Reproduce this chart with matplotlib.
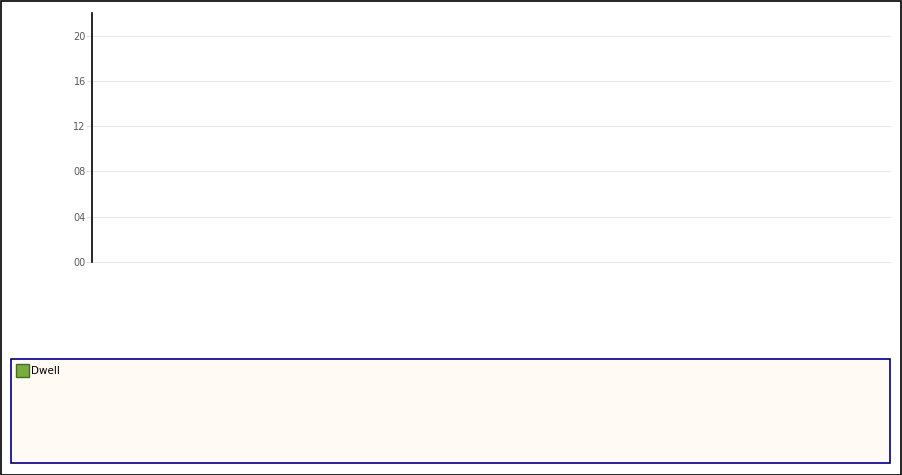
import numpy as np
import matplotlib.pyplot as plt
from matplotlib.patches import Rectangle

# the chart has no data points, only an empty "Dwell" series
categories = []
dwell = []
series_name = "Dwell"
y_ticks = [0, 4, 8, 12, 16, 20]
y_tick_labels = ["00", "04", "08", "12", "16", "20"]

plt.rcParams['font.family'] = ['DejaVu Sans']

fig = plt.figure(figsize=(9.02, 4.75), dpi=100)
W, H = 902, 475

# outer black border of the image
fig.patches.append(Rectangle((0.5 / W, 0.5 / H), 1 - 1.5 / W, 1 - 1.5 / H,
                             transform=fig.transFigure, fill=False,
                             edgecolor="black", linewidth=1.2))

ax = fig.add_axes([92 / W, (H - 262) / H, (890 - 92) / W, (262 - 13) / H])
ax.bar(np.arange(len(categories)), dwell, color="#6a9a3a")
ax.set_ylim(0, 22)
ax.set_xlim(0, 1)
ax.set_yticks(y_ticks)
ax.set_yticklabels(y_tick_labels)
ax.set_xticks([])
ax.grid(axis="y", color="#e8e8e8", linewidth=0.8)
for gl in ax.get_ygridlines():
    gl.set_clip_on(False)
ax.set_axisbelow(True)
for s in ["top", "right", "bottom"]:
    ax.spines[s].set_visible(False)
ax.spines["left"].set_color("black")
ax.spines["left"].set_linewidth(1.2)
ax.spines["left"].set_zorder(3)
ax.tick_params(axis="y", length=4, color="#e0e0e0", labelsize=7,
               labelcolor="#5a5a5a", pad=0.5)

# legend box at the bottom
fig.patches.append(Rectangle((11 / W, (H - 463) / H), (890 - 11) / W, (463 - 359) / H,
                             transform=fig.transFigure, facecolor="#fffaf3",
                             edgecolor="#000080", linewidth=1.2))
fig.patches.append(Rectangle((16 / W, (H - 377) / H), 13 / W, 13 / H,
                             transform=fig.transFigure, facecolor="#7aab3e",
                             edgecolor="#4a6a2a", linewidth=1))
fig.text(31 / W, (H - 371) / H, series_name, fontsize=7.5, color="black",
         va="center", ha="left")

fig.savefig("out.png", dpi=100)
